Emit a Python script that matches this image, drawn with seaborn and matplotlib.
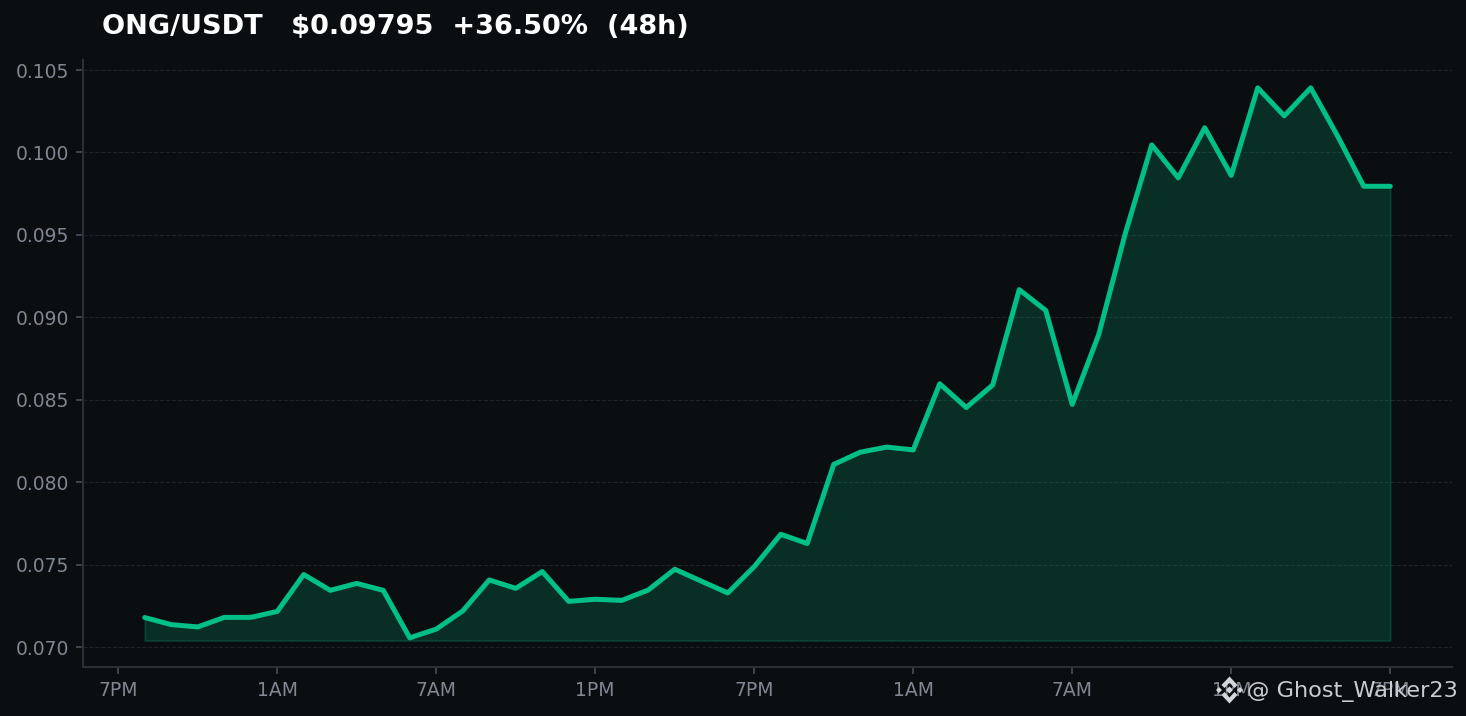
import numpy as np
import pandas as pd
import matplotlib
matplotlib.use("Agg")
import matplotlib.pyplot as plt
from matplotlib.patches import Polygon
import seaborn as sns

hours = list(range(1, 49))
prices = [0.07179, 0.07136, 0.07122, 0.07180, 0.07180, 0.07216, 0.07440, 0.07344,
          0.07386, 0.07344, 0.07056, 0.07109, 0.07219, 0.07407, 0.07356, 0.07458,
          0.07277, 0.07290, 0.07283, 0.07346, 0.07472, 0.07400, 0.07328, 0.07488,
          0.07684, 0.07628, 0.08108, 0.08182, 0.08213, 0.08196, 0.08597, 0.08453,
          0.08590, 0.09168, 0.09042, 0.08472, 0.08896, 0.09508, 0.10046, 0.09846,
          0.10150, 0.09861, 0.10392, 0.10222, 0.10392, 0.10104, 0.09795, 0.09795]
fill_base = 0.0704
x_ticks = [0, 6, 12, 18, 24, 30, 36, 42, 48]
x_labels = ["7PM", "1AM", "7AM", "1PM", "7PM", "1AM", "7AM", "1PM", "7PM"]
y_ticks = [0.070, 0.075, 0.080, 0.085, 0.090, 0.095, 0.100, 0.105]

BG = "#0b0e11"
GREEN = "#00c087"
MUTED = "#7f8793"
EDGE = "#2b2f36"

sns.set_theme(style="dark")
df = pd.DataFrame({"hour": hours, "price": prices})

fig = plt.figure(figsize=(14.66, 7.16), dpi=100, facecolor=BG)
ax = fig.add_axes([83 / 1466, 1 - 667 / 716, (1452 - 83) / 1466, (667 - 60) / 716], facecolor=BG)

ax.fill_between(df["hour"], df["price"], fill_base, color=GREEN, alpha=0.18, linewidth=1.5)
sns.lineplot(data=df, x="hour", y="price", color=GREEN, linewidth=3.6, ax=ax, zorder=3)

ax.set_xlim(-1.33, 50.33)
ax.set_ylim(0.06879, 0.10561)
ax.set_xticks(x_ticks)
ax.set_xticklabels(x_labels)
ax.set_yticks(y_ticks)
ax.set_yticklabels([f"{v:.3f}" for v in y_ticks])
ax.set_xlabel("")
ax.set_ylabel("")
ax.tick_params(axis="both", colors=MUTED, labelsize=13.5, length=5, width=1.2, bottom=True, left=True)
ax.tick_params(axis="x", color="#4a4f58", pad=5)
ax.tick_params(axis="y", color="#4a4f58", pad=5)
ax.grid(axis="y", color="#1e2329", linestyle="--", linewidth=0.8)
ax.grid(axis="x", visible=False)
for side in ["top", "right"]:
    ax.spines[side].set_visible(False)
for side in ["left", "bottom"]:
    ax.spines[side].set_color(EDGE)
    ax.spines[side].set_linewidth(1.5)

fig.text(102 / 1466, 1 - 27 / 716, "ONG/USDT   $0.09795  +36.50%  (48h)", color="white",
         fontsize=19.5, fontweight="bold", va="center", ha="left")

# watermark, logo built from chevrons and small diamonds
fig.text(1458 / 1466, 1 - 691 / 716, "@ Ghost_Walker23", color="#c9ccd1", fontsize=16.1,
         va="center", ha="right")
logo_cx, logo_cy = 1229.5, 690
logo_shapes = [
    [(-8, -5), (0, -13.5), (8, -5), (5, -2), (0, -7.5), (-5, -2)],
    [(-8, 5), (0, 13.5), (8, 5), (5, 2), (0, 7.5), (-5, 2)],
    [(-3.5, 0), (0, -3.5), (3.5, 0), (0, 3.5)],
    [(-13.5, 0), (-10.5, -3), (-7.5, 0), (-10.5, 3)],
    [(13.5, 0), (10.5, -3), (7.5, 0), (10.5, 3)],
]
for shape in logo_shapes:
    fig.add_artist(Polygon([((logo_cx + dx) / 1466, 1 - (logo_cy + dy) / 716) for dx, dy in shape],
                           closed=True, transform=fig.transFigure, facecolor="#d5d7da", edgecolor="none"))

fig.savefig("out.png", dpi=100, facecolor=BG)
